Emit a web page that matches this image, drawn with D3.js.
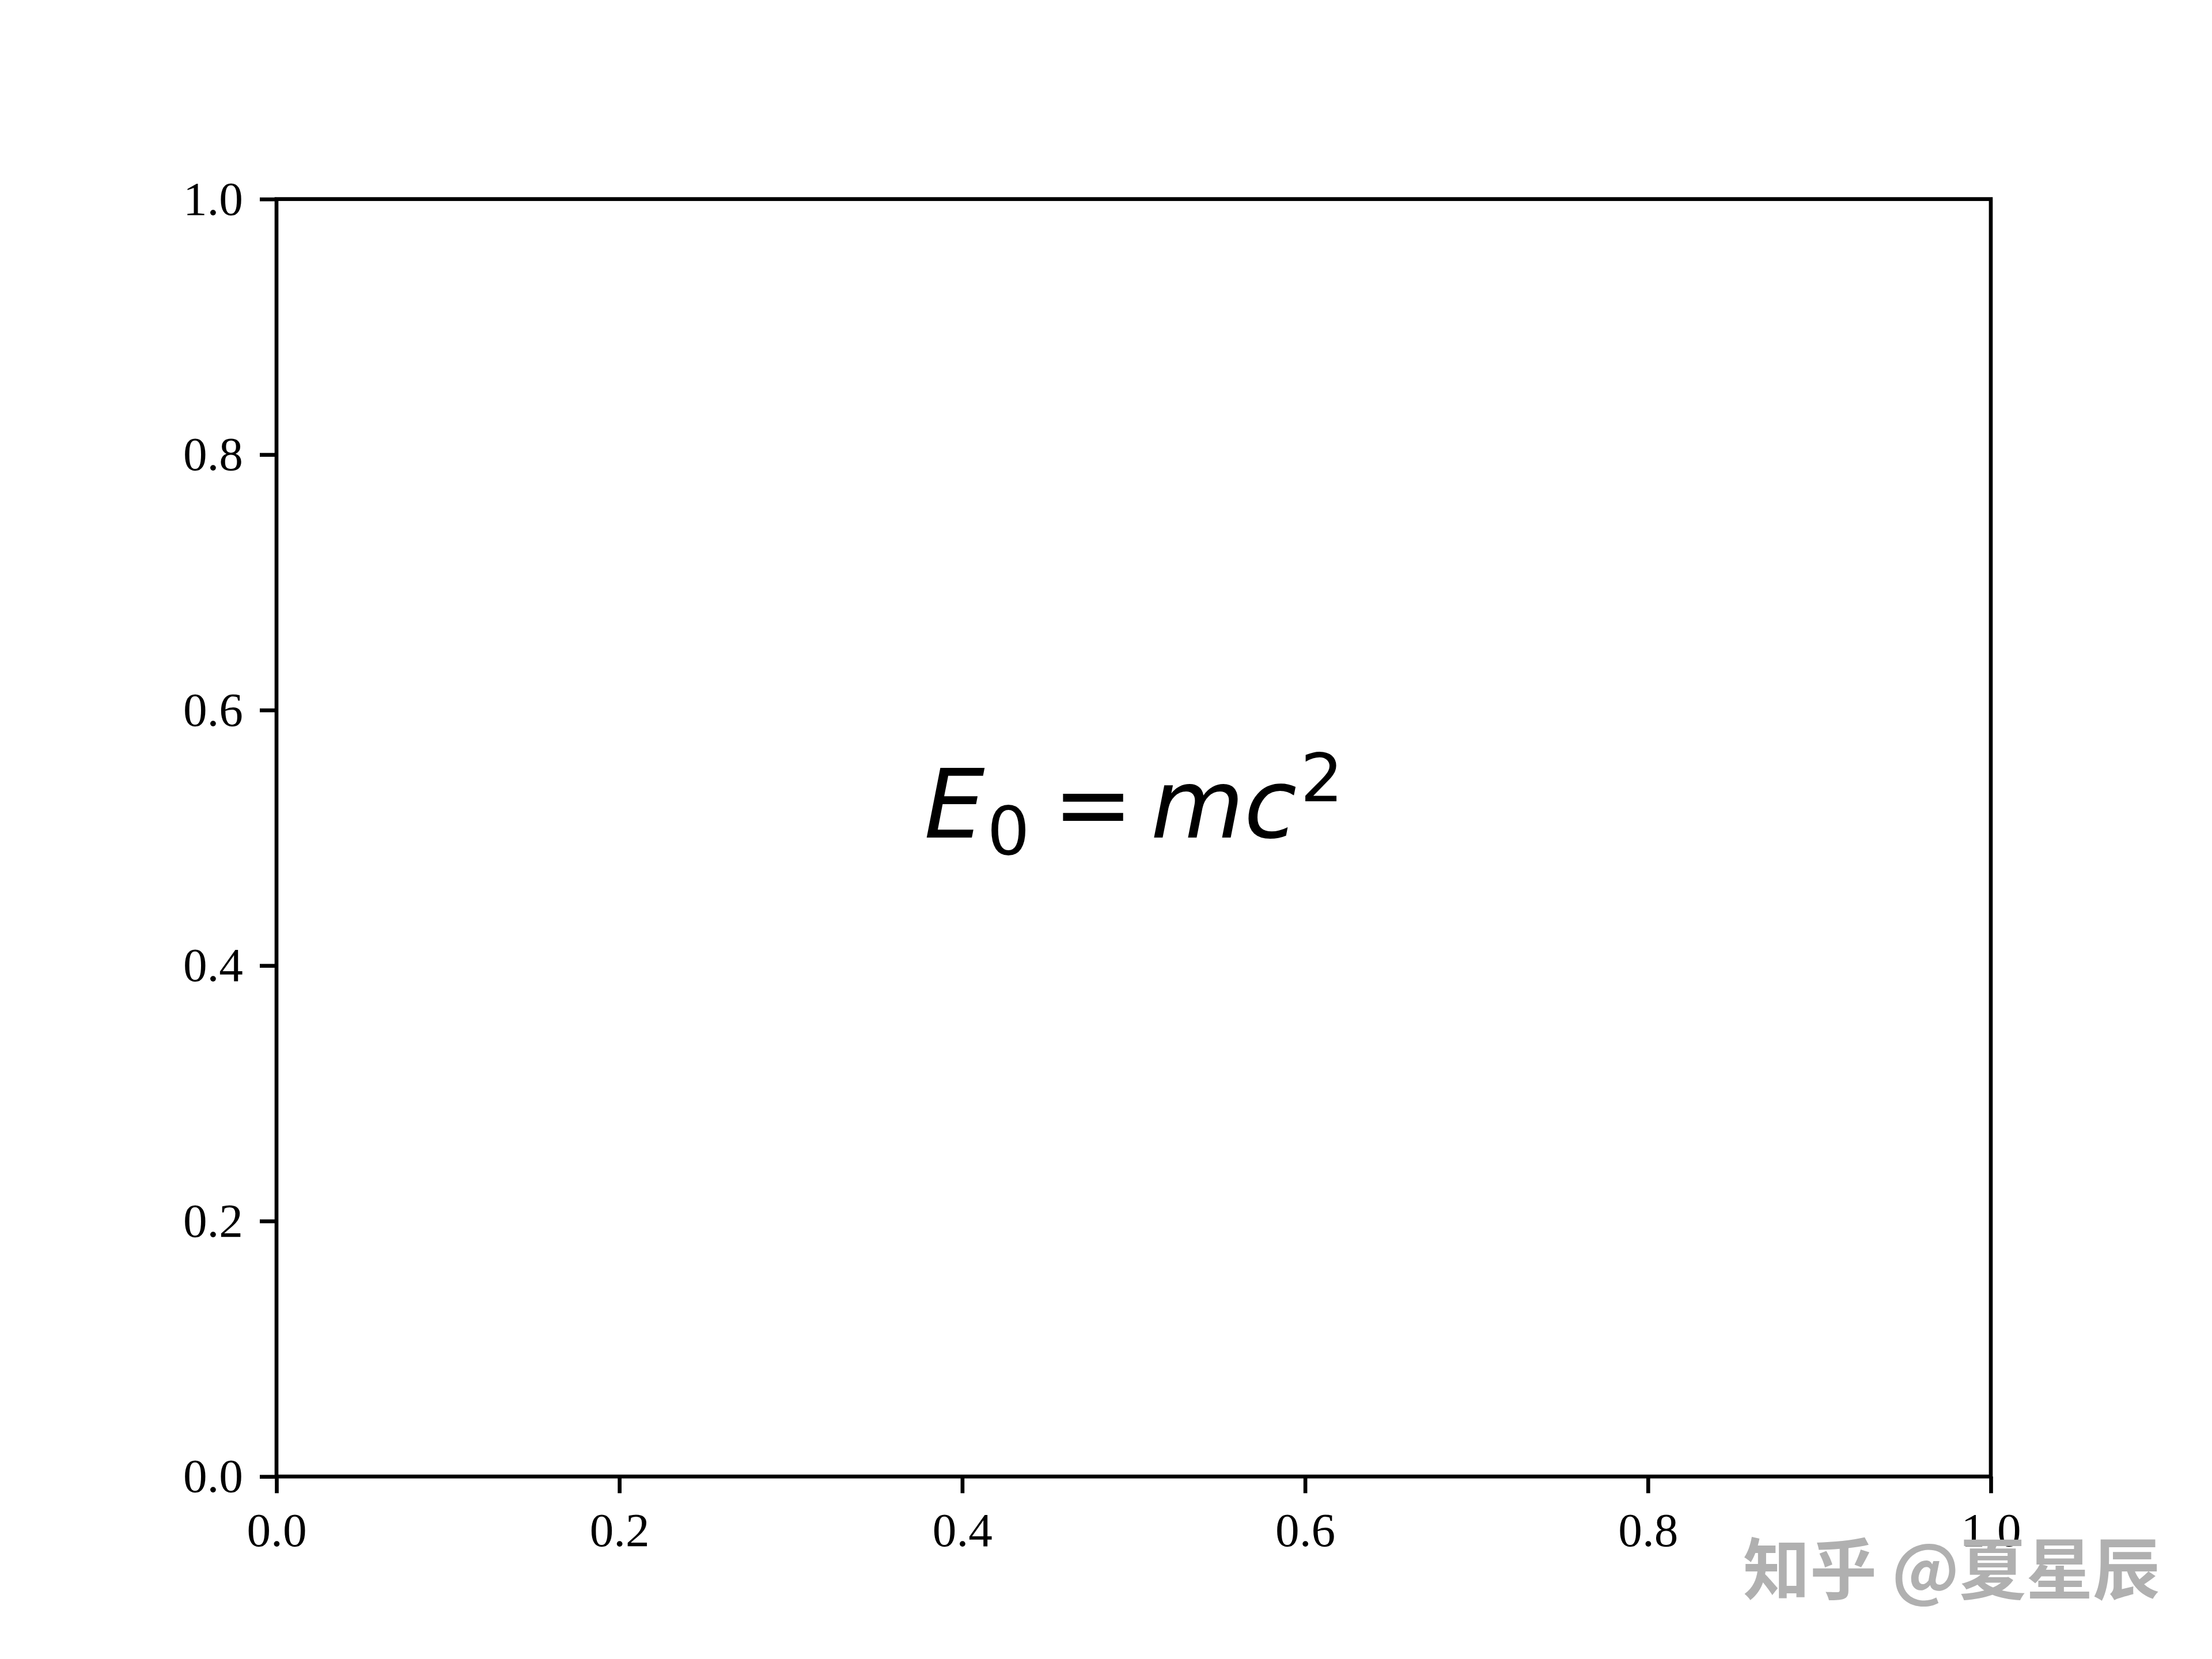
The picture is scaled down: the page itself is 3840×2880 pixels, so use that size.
<!DOCTYPE html>
<html><head><meta charset="utf-8">
<script src="https://cdn.jsdelivr.net/npm/d3@7"></script>
<style>body{margin:0;background:#fff}</style>
</head><body>
<script>
const xTicks = [0.0, 0.2, 0.4, 0.6, 0.8, 1.0];
const yTicks = [0.0, 0.2, 0.4, 0.6, 0.8, 1.0];
const xDomain = [0, 1];
const yDomain = [0, 1];
const annotation = {x: 0.5, y: 0.5};
const watermark = "知乎 @夏星辰";

const W = 3840, H = 2880;
const margin = {left: 480, right: 384, top: 345.6, bottom: 316.8};
const svg = d3.select("body").append("svg").attr("width", W).attr("height", H);
svg.append("rect").attr("width", W).attr("height", H).attr("fill", "#fff");

const x = d3.scaleLinear().domain(xDomain).range([margin.left, W - margin.right]);
const y = d3.scaleLinear().domain(yDomain).range([H - margin.bottom, margin.top]);

const lw = 6.67, tickLen = 29, pad = 29, fs = 83.3;

const xAxis = d3.axisBottom(x).tickValues(xTicks).tickFormat(d3.format(".1f")).tickSize(tickLen).tickPadding(pad).tickSizeOuter(0);
const yAxis = d3.axisLeft(y).tickValues(yTicks).tickFormat(d3.format(".1f")).tickSize(tickLen).tickPadding(pad).tickSizeOuter(0);

const gx = svg.append("g").attr("transform", `translate(0,${H - margin.bottom})`).call(xAxis);
const gy = svg.append("g").attr("transform", `translate(${margin.left},0)`).call(yAxis);
[gx, gy].forEach(g => {
  g.select(".domain").remove();
  g.selectAll(".tick line").attr("stroke", "#000").attr("stroke-width", lw);
  g.selectAll(".tick text").attr("fill", "#000").attr("font-family", "'Liberation Serif','Times New Roman',serif").attr("font-size", fs);
});
gx.selectAll(".tick text").attr("dy", "0.76em");

// spines
svg.append("rect")
  .attr("x", x(xDomain[0])).attr("y", y(yDomain[1]))
  .attr("width", x(xDomain[1]) - x(xDomain[0])).attr("height", y(yDomain[0]) - y(yDomain[1]))
  .attr("fill", "none").attr("stroke", "#000").attr("stroke-width", lw).attr("stroke-linecap", "square");

// math text E_0 = mc^2, centered horizontally, on baseline
const mfs = 166.7, sfs = mfs * 0.7;
const mt = svg.append("text")
  .attr("x", x(annotation.x)).attr("y", y(annotation.y))
  .attr("text-anchor", "middle")
  .attr("font-family", "'DejaVu Sans',sans-serif").attr("font-size", mfs).attr("fill", "#000")
  .style("white-space", "pre");
const parts = [
  {t: "E", size: mfs, italic: true, dx: 0, dy: 0},
  {t: "0", size: sfs, italic: false, dx: 4, dy: 29},
  {t: "=", size: mfs, italic: false, dx: 40, dy: -29},
  {t: "m", size: mfs, italic: true, dx: 30, dy: 0},
  {t: "c", size: mfs, italic: true, dx: 0, dy: 0},
  {t: "2", size: sfs, italic: false, dx: 6, dy: -63}
];
parts.forEach(p => {
  mt.append("tspan").attr("font-size", p.size)
    .attr("font-style", p.italic ? "oblique" : "normal")
    .attr("dx", p.dx).attr("dy", p.dy).text(p.t);
});

// watermark
svg.append("text").attr("x", 3026).attr("y", 2767)
  .attr("font-family", "'Noto Sans CJK SC',sans-serif").attr("font-size", 116).attr("font-weight", "bold")
  .attr("fill", "#b0b0b0").text(watermark);
</script>
</body></html>
